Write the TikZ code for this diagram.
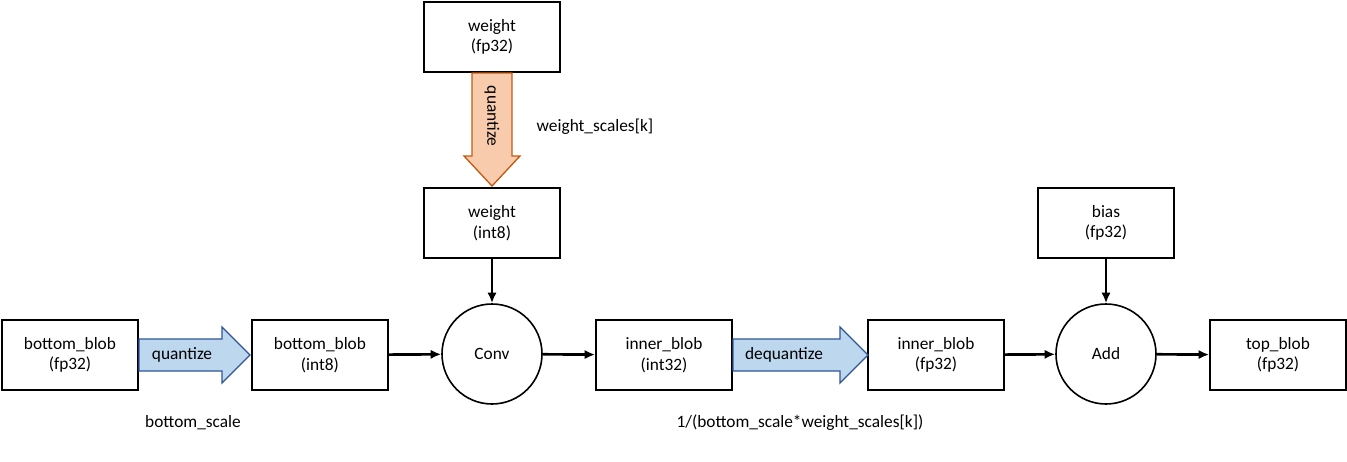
\documentclass[tikz,border=0pt]{standalone}
\usepackage{fontspec}
\setmainfont{Carlito}
\usetikzlibrary{arrows.meta}
\definecolor{lblue}{RGB}{189,215,238}
\definecolor{dblue}{RGB}{47,85,151}
\definecolor{lor}{RGB}{248,203,173}
\definecolor{dor}{RGB}{197,90,17}
\begin{document}
\begin{tikzpicture}[x=0.75pt,y=-0.75pt,
 box/.style={draw,line width=1.2pt,minimum width=136*0.75pt,minimum height=70*0.75pt,align=center,inner sep=0pt,font=\fontsize{13}{15.5}\selectfont},
 circ/.style={draw,line width=1.2pt,circle,minimum size=100*0.75pt,font=\fontsize{13}{15}\selectfont},
 con/.style={line width=2pt,-{Latex[length=8pt,width=7pt]}},
 lbl/.style={font=\fontsize{13}{15}\selectfont},
 fatb/.style={draw=dblue,fill=lblue,line width=1pt},
 fato/.style={draw=dor,fill=lor,line width=1pt}]
\useasboundingbox (0,0) rectangle (1347,461);
\node[box] (b32) at (70,355) {bottom\_blob\\(fp32)};
\node[box] (b8) at (320,355) {bottom\_blob\\(int8)};
\node[circ] (conv) at (492,354) {Conv};
\node[box] (i32) at (664,355) {inner\_blob\\(int32)};
\node[box] (if) at (936,355) {inner\_blob\\(fp32)};
\node[circ] (add) at (1106,354) {Add};
\node[box] (top) at (1278,355) {top\_blob\\(fp32)};
\node[box] (w32) at (492,37) {weight\\(fp32)};
\node[box] (w8) at (492,223) {weight\\(int8)};
\node[box] (bias) at (1106,223) {bias\\(fp32)};
\draw[fatb] (139,339) -- (222,339) -- (222,327) -- (250,355) -- (222,383) -- (222,371) -- (139,371) -- cycle;
\node[lbl] (q1) at (182,355) {quantize};
\draw[fatb] (733,339) -- (840,339) -- (840,327) -- (868,355) -- (840,383) -- (840,371) -- (733,371) -- cycle;
\node[lbl] (dq) at (784,355) {dequantize};
\draw[fato] (472,73) -- (472,156) -- (464,156) -- (492,186) -- (520,156) -- (512,156) -- (512,73) -- cycle;
\node[lbl,rotate=-90] (q2) at (492,116) {quantize};
\draw[con] (b8) -- (conv);
\draw[con] (conv) -- (i32);
\draw[con] (if) -- (add);
\draw[con] (add) -- (top);
\draw[con] (w8) -- (conv);
\draw[con] (bias) -- (add);
\node[lbl] (l1) at (193,423) {bottom\_scale};
\node[lbl] (l2) at (800,423) {1/(bottom\_scale*weight\_scales[k])};
\node[lbl] (l3) at (595,127) {weight\_scales[k]};
\end{tikzpicture}
\end{document}
